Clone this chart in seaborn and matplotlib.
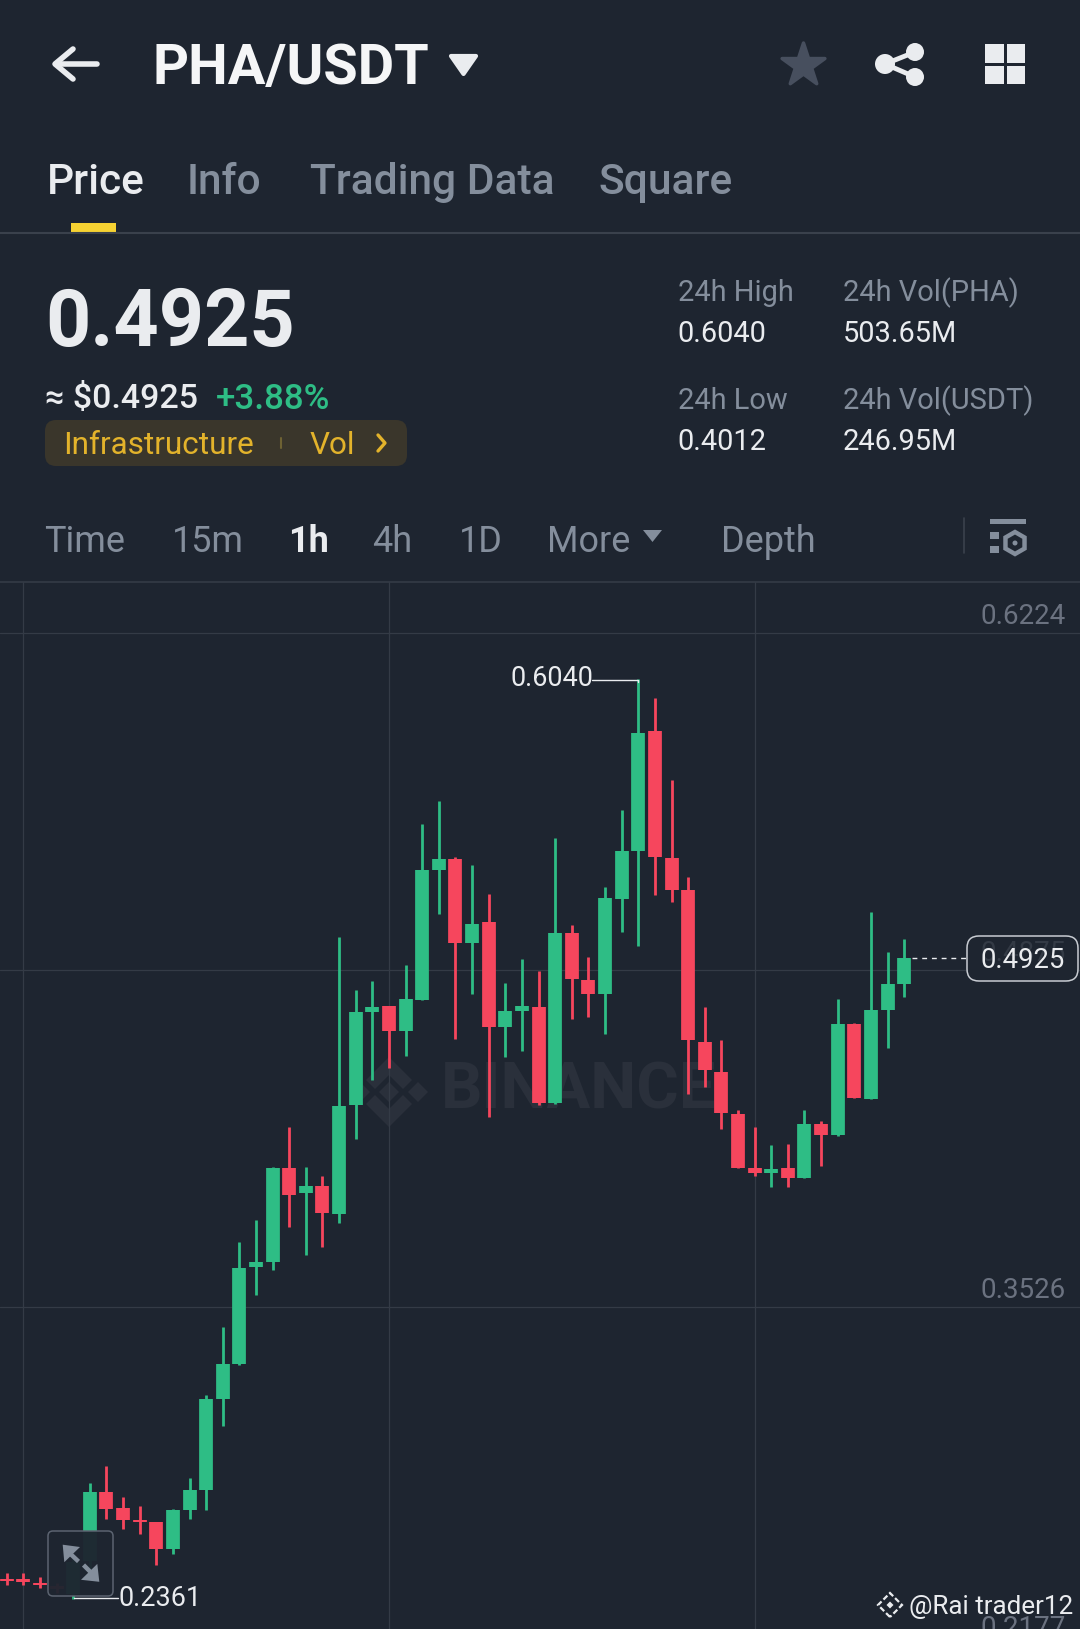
import numpy as np
import pandas as pd
import matplotlib
matplotlib.use("Agg")
import matplotlib.pyplot as plt
from matplotlib.patches import FancyBboxPatch, Rectangle, Polygon, Circle, RegularPolygon
import seaborn as sns

# ---- data -----------------------------------------------------------------
opens = [.2442,.2440,.2426,.2413,.2379,.2514,.2787,.2723,.2677,.2667,.2560,.2716,.2797,.3159,.3300,.3689,.3707,.4084,.3984,.4013,
         .3900,.4335,.4707,.4730,.4633,.4754,.5276,.5320,.4982,.5066,.4647,.4711,.4728,.4345,.5024,.4837,.4778,.5160,.5353,.5830,
         .5322,.5195,.4588,.4468,.4300,.4083,.4064,.4084,.4044,.4260,.4214,.4659,.4361,.4716,.4820]
highs = [.2464,.2466,.2448,.2426,.2522,.2824,.2892,.2769,.2732,.2667,.2719,.2845,.3174,.3447,.3789,.3877,.4089,.4248,.4089,.4050,
         .5007,.4796,.4832,.4732,.4897,.5459,.5552,.5326,.5297,.5180,.4822,.4919,.4873,.5404,.5056,.4927,.5207,.5514,.6040,.5963,
         .5636,.5248,.4726,.4596,.4316,.4248,.4176,.4180,.4315,.4273,.4760,.4663,.5108,.4948,.4999]
lows  = [.2418,.2416,.2406,.2386,.2361,.2480,.2679,.2640,.2621,.2497,.2541,.2680,.2716,.3052,.3298,.3577,.3674,.3849,.3734,.3768,
         .3864,.4200,.4436,.4483,.4533,.4754,.5098,.4599,.4778,.4288,.4526,.4552,.4335,.4339,.4680,.4687,.4619,.5029,.4971,.5176,
         .5147,.4380,.4407,.4238,.4085,.4053,.4009,.4009,.4043,.4092,.4210,.4363,.4361,.4565,.4767]
closes = [.2432,.2429,.2416,.2400,.2508,.2787,.2720,.2677,.2667,.2561,.2716,.2797,.3162,.3300,.3686,.3707,.4085,.3976,.4010,.3904,
          .4333,.4707,.4727,.4633,.4758,.5276,.5318,.4985,.5061,.4648,.4711,.4730,.4345,.5025,.4838,.4780,.5163,.5353,.5825,.5326,
          .5195,.4595,.4474,.4303,.4085,.4063,.4080,.4044,.4260,.4214,.4658,.4363,.4715,.4821,.4925]
price_levels = [0.6224, 0.4875, 0.3526, 0.2177]
price_labels = ["0.6224", "0.4875", "0.3526", "0.2177"]
time_gridlines = [1, 23, 45]
tabs = ["Price", "Info", "Trading Data", "Square"]
periods = ["Time", "15m", "1h", "4h", "1D", "More", "Depth"]

BG = "#1E2530"; GREEN = "#2EBD85"; RED = "#F6465D"; GREY = "#848E9C"; WHITE = "#EAECEF"; GRID = "#343B46"
W, H = 1080, 1629

sns.set_theme(style="dark", rc={"figure.facecolor": BG, "axes.facecolor": BG, "savefig.facecolor": BG})
plt.rcParams["font.family"] = ["Roboto", "DejaVu Sans"]

fig = plt.figure(figsize=(W / 100, H / 100), dpi=100)

def pixel_axes(z):
    a = fig.add_axes([0, 0, 1, 1], zorder=z)
    a.set_xlim(0, W); a.set_ylim(H, 0); a.axis("off"); a.patch.set_alpha(0)
    return a

under = pixel_axes(0)
ui = pixel_axes(2)

# ---- chart ----------------------------------------------------------------
top_px, X0, DX, PX_PER_UNIT = 582, 6.7, 16.62, 2500.0
ax = fig.add_axes([0, 0, 1, (H - top_px) / H], zorder=1)
ax.patch.set_alpha(0)
df = pd.DataFrame({"idx": range(len(opens)), "open": opens, "high": highs, "low": lows, "close": closes})
df["dir"] = np.where(df["close"] >= df["open"], "up", "down")
pal = {"up": GREEN, "down": RED}
wicks = df.melt(id_vars=["idx", "dir"], value_vars=["high", "low"], value_name="price")
bodies = df.melt(id_vars=["idx", "dir"], value_vars=["open", "close"], value_name="price")
sns.lineplot(data=wicks, x="idx", y="price", units="idx", estimator=None, hue="dir", palette=pal, sort=False,
             linewidth=2.0, legend=False, ax=ax, solid_capstyle="butt")
sns.lineplot(data=bodies, x="idx", y="price", units="idx", estimator=None, hue="dir", palette=pal, sort=False,
             linewidth=9.9, legend=False, ax=ax, solid_capstyle="butt")
ax.set_xticks(time_gridlines); ax.set_yticks(price_levels)
ax.set_xlim(-X0 / DX, (W - X0) / DX)
ax.set_ylim(0.6224 - (H - 633) / PX_PER_UNIT, 0.6224 + 51 / PX_PER_UNIT)
ax.set_xticklabels([]); ax.set_yticklabels([])
ax.set_xlabel(""); ax.set_ylabel("")
ax.grid(True, color=GRID, linewidth=0.9)
ax.set_axisbelow(True)
ax.tick_params(length=0)
for s in ax.spines.values():
    s.set_visible(False)

for lev, lab in zip(price_levels, price_labels):
    col = "#333A45" if lab == "0.4875" else "#6B7280"
    ui.annotate(lab, xy=(1, lev), xycoords=ax.get_yaxis_transform(), xytext=(-10.5, 12), textcoords="offset points",
                ha="right", va="center", fontsize=20, color=col, annotation_clip=False, zorder=1 if lab != "0.4875" else 4)

def txt(a, x, y, s, px, color=WHITE, weight="normal", ha="left", **kw):
    return a.text(x, y, s, fontsize=px * 0.72, color=color, fontweight=weight, ha=ha, va="center", **kw)

# watermark below the candles
MARK = "#2A303B"
txt(under, 441, 1091, "BINANCE", 65, MARK, "bold")
for cx in (360, 389, 418):
    under.add_patch(RegularPolygon((cx, 1092), 4, radius=10, orientation=0, color=MARK, lw=0))
for sgn in (1, -1):
    under.add_patch(Polygon([(389, 1092 - sgn * 35), (412, 1092 - sgn * 12), (403, 1092 - sgn * 3), (389, 1092 - sgn * 17),
                             (375, 1092 - sgn * 3), (366, 1092 - sgn * 12)], closed=True, color=MARK, lw=0))

# ---- chart annotations ----
txt(ui, 510, 678, "0.6040", 27, WHITE)
ui.plot([592, 638, 638], [679.5, 679.5, 682], color=WHITE, lw=1)
txt(ui, 119, 1599, "0.2361", 27, WHITE)
ui.plot([74, 118], [1597.8, 1597.8], color=WHITE, lw=1)
ui.plot([912, 966], [958, 958], color=WHITE, lw=1, dashes=(3.5, 3.5))
ui.add_patch(FancyBboxPatch((967 + 12, 936 + 12), 111 - 24, 45 - 24, boxstyle="round,pad=12,rounding_size=12",
                            fc=BG, ec="#C8CCD2", lw=1.1, zorder=3))
txt(ui, 1023, 960, "0.4925", 27.5, WHITE, ha="center", zorder=5)

# expand button
ui.add_patch(FancyBboxPatch((48 + 6, 1531 + 6), 65 - 12, 65 - 12, boxstyle="round,pad=6,rounding_size=5",
                            fc=BG, ec="#5E6673", lw=1.1, alpha=0.96))
ui.add_patch(Polygon([(62.7, 1544.7), (80, 1547), (64.3, 1562.2)], closed=True, fc=GREY, lw=0))
ui.add_patch(Polygon([(99.3, 1581.8), (81, 1579.8), (97.3, 1563.9)], closed=True, fc=GREY, lw=0))
ui.plot([70, 78.5], [1553.5, 1561.5], color=GREY, lw=3.2, solid_capstyle="butt")
ui.plot([83.5, 91], [1565, 1572.5], color=GREY, lw=3.2, solid_capstyle="butt")

# credit
txt(ui, 909, 1607, "@Rai trader12", 26, WHITE)
ui.add_patch(RegularPolygon((890, 1605), 4, radius=12, orientation=0, fc="none", ec=WHITE, lw=1.6, ls=(0, (2.5, 1.2))))
ui.add_patch(RegularPolygon((890, 1605), 4, radius=3.5, orientation=0, fc=WHITE, lw=0))

# ---- header ----
ui.plot([58, 97], [64, 64], color=WHITE, lw=4, solid_capstyle="round")
ui.plot([73, 55, 73], [49, 64, 79], color=WHITE, lw=4, solid_capstyle="round", solid_joinstyle="round")
txt(ui, 152, 69, "PHA/USDT", 56, "#F5F6F7", "bold")
ui.add_patch(Polygon([(451, 56), (476, 56), (463.5, 74)], closed=True, fc=WHITE, ec=WHITE, lw=3, joinstyle="round"))
ui.scatter([803], [65], marker="*", s=1050, color="#474F5E", edgecolors="#474F5E", linewidths=2.5)
for x, y, r in [(915, 52, 9), (885, 64, 10), (915, 77, 9)]:
    ui.add_patch(Circle((x, y), r, color=WHITE, lw=0))
ui.plot([915, 885, 915], [52, 64, 77], color=WHITE, lw=3.5)
for x, y in [(985, 44), (1006.5, 44), (985, 65.5), (1006.5, 65.5)]:
    ui.add_patch(Rectangle((x, y), 18.5, 18.5, color=WHITE, lw=0))

# tabs
for s, x, c in zip(tabs, [47, 187, 310, 598], [WHITE, GREY, GREY, GREY]):
    txt(ui, x, 182, s, 42.5, c, "medium")
ui.add_patch(Rectangle((71, 223), 45, 8.5, color="#F6D232", lw=0))
ui.plot([0, W], [233, 233], color="#3A414C", lw=1.5)

# price block
txt(ui, 45, 324, "0.4925", 79, WHITE, "bold")
txt(ui, 45, 399, "≈ $0.4925", 34, WHITE, "medium")
txt(ui, 216, 399, "+3.88%", 35, GREEN, "medium")
ui.add_patch(FancyBboxPatch((45 + 11, 420 + 11), 362 - 22, 46 - 22, boxstyle="round,pad=11,rounding_size=11", fc="#3A362B", lw=0))
txt(ui, 63, 445, "Infrastructure", 31.5, "#E3B32B")
ui.plot([281, 281], [438, 448], color="#6E6233", lw=1.5)
txt(ui, 310, 445, "Vol", 31.5, "#E3B32B")
ui.plot([378, 385, 378], [435, 443, 451], color="#E3B32B", lw=2.4)

# stats
stats = [(678, 293, "24h High", GREY), (677, 334, "0.6040", WHITE), (678, 401, "24h Low", GREY), (677, 442, "0.4012", WHITE),
         (843, 293, "24h Vol(PHA)", GREY), (843, 334, "503.65M", WHITE), (843, 401, "24h Vol(USDT)", GREY), (843, 442, "246.95M", WHITE)]
for x, y, s, c in stats:
    txt(ui, x, y, s, 29, c)

# period row
for s, x in zip(periods, [44, 172, 288, 372, 459, 547, 721]):
    on = s == "1h"
    txt(ui, x, 542, s, 36, WHITE if on else GREY, "bold" if on else "normal")
ui.add_patch(Polygon([(643, 530), (662, 530), (652.5, 542)], closed=True, fc=GREY, lw=0))
ui.plot([964, 964], [518, 553], color="#3A414C", lw=1.2)
ui.add_patch(Rectangle((990, 519), 36, 5, color=GREY, lw=0))
ui.add_patch(Rectangle((990, 532), 9, 7, color=GREY, lw=0))
ui.add_patch(Rectangle((990, 546), 9, 7, color=GREY, lw=0))
ui.add_patch(RegularPolygon((1015, 543), 6, radius=11, fc="none", ec=GREY, lw=3.2))
ui.add_patch(Circle((1015, 543), 2.5, color=GREY, lw=0))
ui.plot([0, W], [582, 582], color="#343B46", lw=1.2)

fig.savefig("out.png", dpi=100, facecolor=BG)
